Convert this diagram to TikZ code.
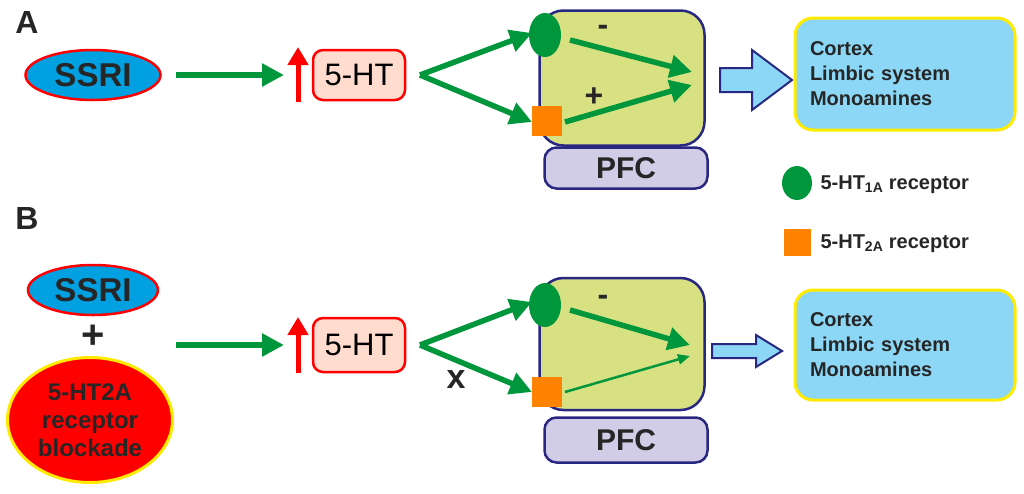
\documentclass[tikz,border=0pt]{standalone}
\usepackage{fontspec}
\setmainfont{Liberation Sans}
\usetikzlibrary{arrows.meta,shapes.geometric}
\definecolor{gr}{RGB}{0,150,60}
\definecolor{cy}{RGB}{0,160,225}
\definecolor{nv}{RGB}{40,40,130}
\definecolor{lg}{RGB}{215,225,130}
\definecolor{pk}{RGB}{255,220,205}
\definecolor{lb}{RGB}{140,215,245}
\definecolor{lv}{RGB}{210,205,230}
\definecolor{or}{RGB}{255,130,0}
\definecolor{yl}{RGB}{255,235,0}
\tikzset{
 g/.style={draw=gr,line width=5.5pt,-{Triangle[length=22pt,width=22pt]}},
 gt/.style={draw=gr,line width=2.5pt,-{Triangle[length=12pt,width=10pt]}},
 rd/.style={draw=red,line width=5pt,-{Triangle[length=18pt,width=20pt]}},
 cond/.style={xscale=0.85},
 ssri/.style={ellipse,draw=red,line width=2.5pt,fill=cy,font=\bfseries\fontsize{33}{33}\selectfont,text=black!85,inner sep=0pt},
 ht/.style={draw=red,line width=2.5pt,fill=pk,rounded corners=10pt,font=\fontsize{31}{31}\selectfont},
 big/.style={draw=nv,line width=2.5pt,fill=lg,rounded corners=24pt},
 pfc/.style={draw=nv,line width=2.5pt,fill=lv,rounded corners=12pt,font=\bfseries\fontsize{30}{30}\selectfont,text=black!85},
 ctx/.style={draw=yl,line width=3pt,fill=lb,rounded corners=18pt,align=left,font=\bfseries\fontsize{20}{25}\selectfont,text=black!85},
 rec/.style={ellipse,fill=gr,minimum width=32pt,minimum height=44pt,inner sep=0pt},
 sq/.style={fill=or,minimum size=30pt,inner sep=0pt},
 lab/.style={font=\bfseries\fontsize{32}{32}\selectfont,text=black!85},
 sgn/.style={font=\bfseries\fontsize{32}{32}\selectfont,text=black!85}
}
\begin{document}
\begin{tikzpicture}[x=1pt,y=-1pt]
\useasboundingbox (0,0) rectangle (1024,493);
\node[lab] (la) at (27,22) {A};
\node[lab] (lbb) at (27,218) {B};
% Panel A
\node[ssri,minimum width=135pt,minimum height=50pt] (s1) at (93,75) {SSRI};
\node[ht,minimum width=92pt,minimum height=50pt] (h1) at (359,75) {5-HT};
\draw[g] (176,75) coordinate (a1) -- (284,75) coordinate (a2);
\draw[rd] (298,102) coordinate (r1) -- (298,47) coordinate (r2);
\node[big,minimum width=165pt,minimum height=135pt] (b1) at (622,78) {};
\node[pfc,minimum width=163pt,minimum height=41pt] (p1) at (626,168) {PFC};
\node[rec] (c1) at (545,35) {};
\node[sq] (q1) at (547,121) {};
\coordinate (f1) at (420,75);
\draw[g] (f1) -- (532,33);
\draw[g] (f1) -- (532,122);
\draw[g] (570,40) -- (692,72);
\draw[g] (565,122) -- (692,85);
\node[sgn] (m1) at (603,30) {-};
\node[sgn] (pl1) at (594,97) {+};
\draw[draw=nv,line width=2pt,fill=lb] (720,68) -- (752,68) -- (752,50) -- (792,80) -- (752,110) -- (752,92) -- (720,92) -- cycle;
\node[ctx,minimum width=220pt,minimum height=112pt,text width=190pt] (k1) at (905,74) {Cortex\\Limbic system\\Monoamines};
% legend
\node[rec,minimum width=30pt,minimum height=34pt] (lc) at (797,183) {};
\node[anchor=west,font=\bfseries\fontsize{20}{20}\selectfont,text=black!85] (lt1) at (817,185) {5-HT\textsubscript{1A} receptor};
\node[sq,minimum size=27pt] (ls) at (797,242) {};
\node[anchor=west,font=\bfseries\fontsize{20}{20}\selectfont,text=black!85] (lt2) at (817,244) {5-HT\textsubscript{2A} receptor};
% Panel B
\node[ssri,minimum width=130pt,minimum height=50pt] (s2) at (93,290) {SSRI};
\node[sgn,font=\bfseries\fontsize{40}{40}\selectfont] (pp) at (93,337) {+};
\node[ellipse,draw=yl,line width=3pt,fill=red,minimum width=165pt,minimum height=125pt,align=center,inner sep=0pt,font=\bfseries\fontsize{24}{28}\selectfont,text=black!85] (bl) at (90,420) {5-HT2A\\receptor\\blockade};
\node[ht,minimum width=92pt,minimum height=54pt] (h2) at (359,345) {5-HT};
\draw[g] (176,345) coordinate (a3) -- (284,345) coordinate (a4);
\draw[rd] (298,373) coordinate (r3) -- (298,317) coordinate (r4);
\node[big,minimum width=165pt,minimum height=132pt] (b2) at (622,344) {};
\node[pfc,minimum width=163pt,minimum height=45pt] (p2) at (626,440) {PFC};
\node[rec] (c2) at (545,305) {};
\node[sq] (q2) at (547,392) {};
\coordinate (f2) at (420,345);
\draw[g] (f2) -- (532,302);
\draw[g] (f2) -- (532,392);
\draw[g] (570,310) -- (690,345);
\draw[gt] (565,392) -- (690,356);
\node[sgn] (m2) at (603,300) {-};
\node[font=\bfseries\fontsize{34}{34}\selectfont,text=black!85] (xx) at (456,380) {x};
\draw[draw=nv,line width=2pt,fill=lb] (712,344) -- (756,344) -- (756,335) -- (782,351) -- (756,367) -- (756,358) -- (712,358) -- cycle;
\node[ctx,minimum width=220pt,minimum height=110pt,text width=190pt] (k2) at (905,345) {Cortex\\Limbic system\\Monoamines};
\end{tikzpicture}
\end{document}
